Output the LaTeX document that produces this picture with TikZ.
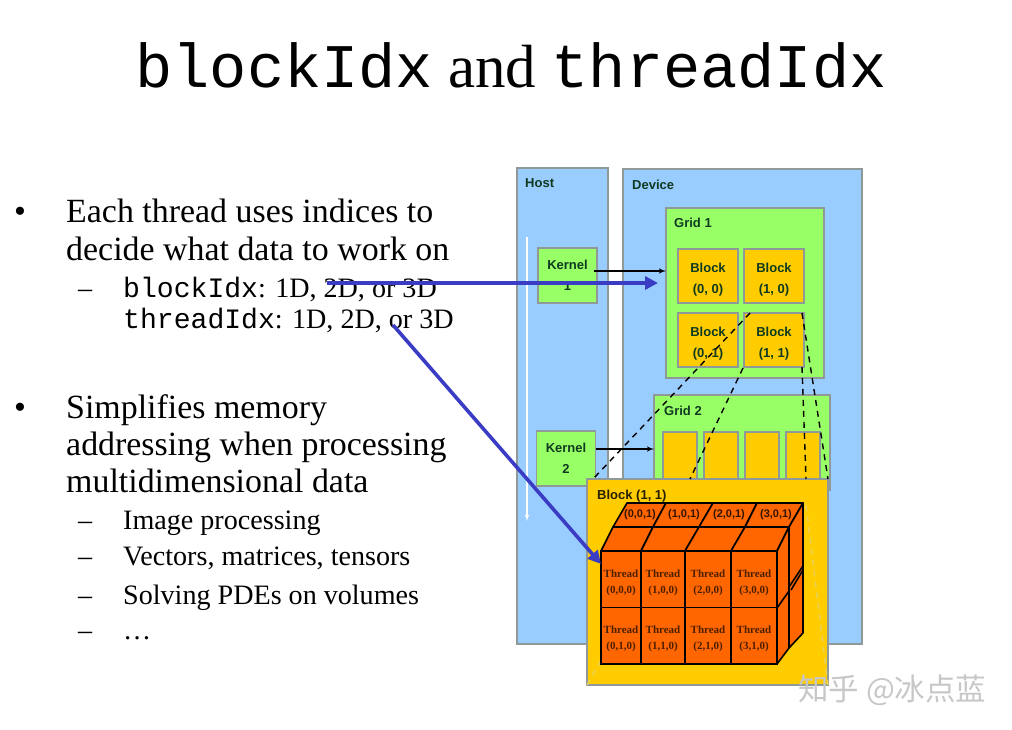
\documentclass[tikz,border=0pt]{standalone}
\usepackage{fontspec}
\setmainfont{Liberation Serif}
\setsansfont{Liberation Sans}
\setmonofont{Liberation Mono}
\newfontfamily\cjk{Noto Sans CJK SC}
\usetikzlibrary{arrows,arrows.meta,positioning}
\definecolor{hostblue}{HTML}{99CCFF}
\definecolor{boxgreen}{HTML}{99FF66}
\definecolor{boxyellow}{HTML}{FFCC00}
\definecolor{cubeorange}{HTML}{FF6600}
\definecolor{boxedge}{HTML}{8F9A98}
\definecolor{darktext}{HTML}{103A20}
\definecolor{arrowblue}{HTML}{3A3CC4}
\definecolor{faintdash}{HTML}{EAD25A}
\begin{document}
\begin{tikzpicture}[
    x=1pt,
    y=-1pt,
    node distance=66pt,
    >=latex',
    sidetext/.style={
        anchor=base west,
        inner sep=0pt,
        font=\fontsize{33.9}{37}\selectfont
    },
    subtext/.style={
        anchor=base west,
        inner sep=0pt,
        font=\fontsize{28.1}{32}\selectfont
    },
    boxname/.style={
        anchor=base west,
        inner sep=0pt,
        text=darktext,
        font=\fontsize{13}{15}\selectfont\bfseries\sffamily
    },
    outerbox/.style={
        rectangle,
        anchor=north west,
        draw=boxedge,
        line width=1.6pt,
        outer sep=0pt,
        fill=hostblue
    },
    gridbox/.style={
        outerbox,
        fill=boxgreen
    },
    kernel/.style={
        rectangle,
        draw=boxedge,
        line width=1.6pt,
        outer sep=0pt,
        fill=boxgreen,
        text=darktext,
        align=center,
        minimum width=59pt,
        minimum height=55pt,
        inner sep=0pt,
        font=\fontsize{13}{21}\selectfont\bfseries\sffamily
    },
    block/.style={
        rectangle,
        draw=boxedge,
        line width=1.6pt,
        outer sep=0pt,
        fill=boxyellow,
        text=darktext,
        align=center,
        minimum width=60pt,
        minimum height=54pt,
        inner sep=0pt,
        execute at begin node={\rule{0pt}{38pt}},
        font=\fontsize{13}{21}\selectfont\bfseries\sffamily
    },
    smallblock/.style={
        block,
        minimum width=34pt,
        minimum height=60pt
    },
    cell/.style={
        rectangle,
        anchor=north west,
        draw=black,
        line width=1.6pt,
        outer sep=0pt,
        fill=cubeorange,
        align=center,
        inner sep=0pt,
        minimum height=56.5pt,
        text=black!70!cubeorange,
        execute at begin node={\rule{0pt}{30pt}},
        font=\fontsize{11}{16}\selectfont\bfseries
    },
    face/.style={
        draw=black,
        line width=1.6pt,
        line join=round,
        fill=cubeorange
    },
    backlabel/.style={
        inner sep=0pt,
        text=black!80!cubeorange,
        font=\fontsize{11}{13}\selectfont\bfseries\sffamily
    },
    longdash/.style={
        dash pattern=on 6pt off 5pt,
        line width=1.4pt
    },
    bluearrow/.style={
        -{Triangle[length=13pt,width=13pt]},
        draw=arrowblue,
        line width=3.6pt
    }
  ]
  \useasboundingbox (0,0) rectangle (1012,730);

  % title and the text on the left
  \node [anchor=base, inner sep=0pt, font=\fontsize{61}{66}\selectfont] (title) at (511,88)
    {{\fontsize{62}{66}\selectfont\ttfamily blockIdx} and {\fontsize{62}{66}\selectfont\ttfamily threadIdx}};

  \node [sidetext] (bullet1) at (14,223) {•};
  \node [sidetext] (each) at (66,223) {Each thread uses indices to};
  \node [sidetext] (decide) at (66,260) {decide what data to work on};
  \node [subtext] (dash1) at (78,297) {–};
  \node [subtext] (blockline) at (123,297) {\texttt{blockIdx}: 1D, 2D, or 3D};
  \node [subtext] (threadline) at (123,328) {\texttt{threadIdx}: 1D, 2D, or 3D};
  \node [sidetext] (bullet2) at (14,418) {•};
  \node [sidetext] (simplifies) at (66,418) {Simplifies memory};
  \node [sidetext] (addressing) at (66,455) {addressing when processing};
  \node [sidetext] (multi) at (66,492) {multidimensional data};
  \node [subtext] (dash2) at (78,529) {–};
  \node [subtext] (image) at (123,529) {Image processing};
  \node [subtext] (dash3) at (78,565) {–};
  \node [subtext] (vectors) at (123,565) {Vectors, matrices, tensors};
  \node [subtext] (dash4) at (78,604) {–};
  \node [subtext] (solving) at (123,604) {Solving PDEs on volumes};
  \node [subtext] (dash5) at (78,639) {–};
  \node [subtext] (dots) at (123,639) {…};

  % host and device
  \node [outerbox, minimum width=91pt, minimum height=476pt] (host) at (517,168) {};
  \node [outerbox, minimum width=239pt, minimum height=475pt] (device) at (623,169) {};
  \node [boxname] (hostname) at (525,188) {Host};
  \node [boxname] (devicename) at (632,190) {Device};

  \coordinate (whitetop) at (527,237);
  \coordinate (whiteend) at (527,521);
  \draw [->, draw=white, line width=1.2pt] (whitetop) -- (whiteend);

  \node [kernel] (kernel1) at (567.5,275.5) {Kernel\\1};
  \node [kernel, below of=kernel1, yshift=-117pt, xshift=-1.5pt] (kernel2) {Kernel\\2};

  % grid 2 goes under the big block
  \node [gridbox, minimum width=176pt, minimum height=95pt] (grid2) at (654,395) {};
  \node [boxname] (grid2name) at (664,415) {Grid 2};
  \node [smallblock] (small0) at (680,462) {};
  \node [smallblock, right of=small0, node distance=41pt] (small1) {};
  \node [smallblock, right of=small1, node distance=41pt] (small2) {};
  \node [smallblock, right of=small2, node distance=41pt] (small3) {};

  \node [gridbox, minimum width=158pt, minimum height=170pt] (grid1) at (666,208) {};
  \node [boxname] (grid1name) at (674,228) {Grid 1};
  \node [block] (block00) at (708,276) {Block\\(0, 0)};
  \node [block, right of=block00] (block10) {Block\\(1, 0)};
  \node [block, below of=block00, node distance=64pt] (block01) {Block\\(0, 1)};
  \node [block, below of=block10, node distance=64pt] (block11) {Block\\(1, 1)};

  \draw [->, line width=1.4pt] ([xshift=-3pt]kernel1.east |- 0,271) -- (grid1.west |- 0,271);
  \draw [->, line width=1.4pt] (kernel2.east |- 0,449) -- (grid2.west |- 0,449);

  % the big block
  \node [outerbox, fill=boxyellow, minimum width=241pt, minimum height=206pt] (bigblock) at (587,479) {};

  \draw [longdash] ([xshift=6pt]block11.north west) -- ([xshift=6pt]bigblock.north west);
  \draw [longdash] ([xshift=-1pt,yshift=-1pt]block11.south west) -- ([xshift=103pt]bigblock.north west);
  \draw [longdash] ([xshift=-2pt]block11.north east) -- (bigblock.north east);
  \draw [longdash] ([xshift=-2pt]block11.south east) -- ([xshift=-22pt]bigblock.north east);
  \draw [longdash, draw=faintdash] ([xshift=-22pt,yshift=-26pt]bigblock.north east) -- (bigblock.south east);
  \draw [longdash, draw=faintdash] (bigblock.south west) -- ([xshift=54pt,yshift=-111pt]bigblock.north west);

  \node [boxname, text=black!85!boxyellow] (bigname) at (597,499) {Block (1, 1)};

  % the cube of threads, back faces first
  \foreach \xa/\xb/\xc/\xd in {627/666/613/653, 666/713/653/699, 713/757/699/745, 757/803/745/789}
    \draw [face] (\xa,503) -- (\xb,503) -- (\xd,527) -- (\xc,527) -- cycle;
  \foreach \xa/\xb/\xc/\xd in {613/653/601/641, 653/699/641/685, 699/745/685/731, 745/789/731/777}
    \draw [face] (\xa,527) -- (\xb,527) -- (\xd,551) -- (\xc,551) -- cycle;
  \draw [face] (789,527) -- (803,503) -- (803,633) -- (789,648) -- cycle;
  \draw [face] (777,551) -- (789,527) -- (789,648) -- (777,664) -- cycle;
  \draw [line width=1.6pt] (777,608) -- (789,591);
  \draw [line width=1.6pt] (789,587) -- (803,566);
  \draw [line width=1.6pt] (791,590) -- (803,570);

  \node [backlabel] (back0) at (640,515) {(0,0,1)};
  \node [backlabel] (back1) at (684,515) {(1,0,1)};
  \node [backlabel] (back2) at (729,515) {(2,0,1)};
  \node [backlabel] (back3) at (776,515) {(3,0,1)};

  \node [cell, minimum width=40pt] (thread00) at (601,551) {Thread\\(0,0,0)};
  \node [cell, minimum width=44pt] (thread10) at (641,551) {Thread\\(1,0,0)};
  \node [cell, minimum width=46pt] (thread20) at (685,551) {Thread\\(2,0,0)};
  \node [cell, minimum width=46pt] (thread30) at (731,551) {Thread\\(3,0,0)};
  \node [cell, minimum width=40pt] (thread01) at (601,607.5) {Thread\\(0,1,0)};
  \node [cell, minimum width=44pt] (thread11) at (641,607.5) {Thread\\(1,1,0)};
  \node [cell, minimum width=46pt] (thread21) at (685,607.5) {Thread\\(2,1,0)};
  \node [cell, minimum width=46pt] (thread31) at (731,607.5) {Thread\\(3,1,0)};

  % blue arrows on top of everything
  \coordinate (blockstart) at (327,283);
  \coordinate (threadstart) at (393,325);
  \draw [bluearrow] (blockstart) -- ([xshift=-8pt]grid1.west |- blockstart);
  \draw [bluearrow] (threadstart) -- (thread00.north west |- 0,564);

  \node [anchor=base west, inner sep=0pt, text=black!22, font=\fontsize{30.5}{32}\selectfont\cjk] (mark) at (798,700) {知乎 @冰点蓝};

\end{tikzpicture}
\end{document}
